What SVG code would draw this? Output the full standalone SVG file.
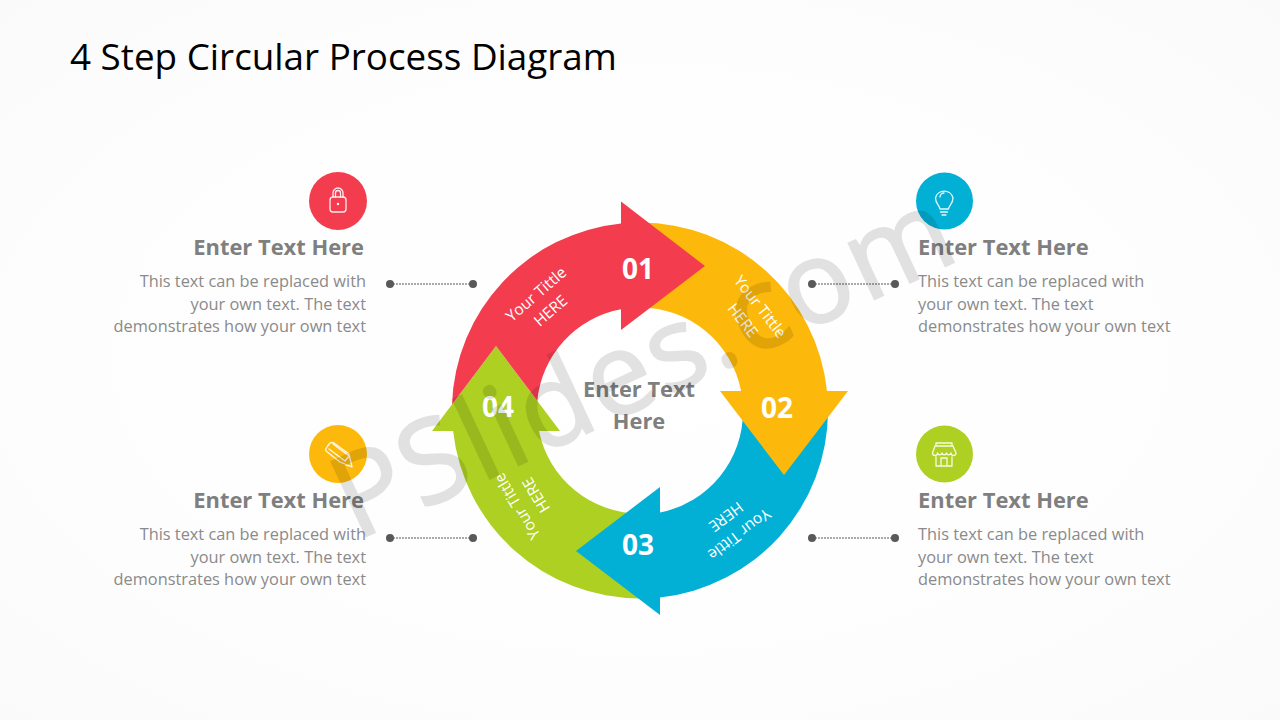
<svg xmlns="http://www.w3.org/2000/svg" width="1280" height="720" viewBox="0 0 1280 720">
<style>
text{font-family:"Open Sans","Noto Sans","Liberation Sans",sans-serif}
.title{font-size:36.800px;fill:#000}
.head{font-size:21.900px;font-weight:700;fill:#7f7f7f}
.body{font-size:16.350px;fill:#8a8a8a}
.end{text-anchor:end}
.num{font-size:28px;font-weight:700;fill:#fff;text-anchor:middle}
.lab{font-size:15.500px;fill:#fff;text-anchor:middle}
.center{font-size:21.800px;font-weight:700;fill:#7f7f7f;text-anchor:middle}
.link{stroke:#595959;stroke-width:1;stroke-dasharray:2 1;fill:none}
.dot{fill:#595959}
.ic{fill:none;stroke:#fff;stroke-width:1.300;stroke-linejoin:round;stroke-linecap:round;opacity:.9}
.wm{font-size:115px;fill:#000;stroke:#000;stroke-width:2;opacity:.11;letter-spacing:2.800px}
</style>
<defs>
<radialGradient id="bg" cx="50%" cy="50%" r="70%">
<stop offset="0" stop-color="#fff"/><stop offset=".7" stop-color="#fdfdfd"/><stop offset="1" stop-color="#fafafa"/>
</radialGradient>
</defs>
<rect width="1280" height="720" fill="url(#bg)"/>
<text class="title" x="70" y="70">4 Step Circular Process Diagram</text>

<g id="connectors">
<line class="link" x1="390" y1="284" x2="473" y2="284"/><circle class="dot" cx="390" cy="284" r="4"/><circle class="dot" cx="473" cy="284" r="4"/>
<line class="link" x1="812" y1="284" x2="895" y2="284"/><circle class="dot" cx="812" cy="284" r="4"/><circle class="dot" cx="895" cy="284" r="4"/>
<line class="link" x1="390" y1="538" x2="473" y2="538"/><circle class="dot" cx="390" cy="538" r="4"/><circle class="dot" cx="473" cy="538" r="4"/>
<line class="link" x1="812" y1="538" x2="895" y2="538"/><circle class="dot" cx="812" cy="538" r="4"/><circle class="dot" cx="895" cy="538" r="4"/>
</g>

<g id="arrow-04">
<path fill="#add022" d="M640,598.500A188,188 0 0 1 453.100,431L432,431L496,346L560,431L539,431A103,103 0 0 0 640,513.500Z"/>
<text class="num" x="498" y="417">04</text>
<text class="lab" transform="translate(526,501) rotate(-121)"><tspan x="0" y="-5">Your Tittle</tspan><tspan x="0" y="17">HERE</tspan></text>
</g>
<g id="arrow-03">
<path fill="#02b0d6" d="M828,410.500A188,188 0 0 1 660,597.400L660,615L576,551L660,487L660,512.500A103,103 0 0 0 743,410.500Z"/>
<text class="num" x="638" y="555">03</text>
<text class="lab" transform="translate(733,526) rotate(143)"><tspan x="0" y="-5">Your Tittle</tspan><tspan x="0" y="17">HERE</tspan></text>
</g>
<g id="arrow-02">
<path fill="#fdb90b" d="M640,222.500A188,188 0 0 1 827,391L848,391L784,475L720,391L741.100,391A103,103 0 0 0 640,307.500Z"/>
<text class="num" x="777" y="418">02</text>
<text class="lab" transform="translate(752,313) rotate(52)"><tspan x="0" y="-5">Your Tittle</tspan><tspan x="0" y="17">HERE</tspan></text>
</g>
<g id="arrow-01">
<path fill="#f43c4f" d="M452,404.400A188,188 0 0 1 621,223.500L621,201.500L705,266L621,330L621,309.300A103,103 0 0 0 537.300,400.800L496,346Z"/>
<text class="num" x="638" y="279">01</text>
<text class="lab" transform="translate(543,302) rotate(-41)"><tspan x="0" y="-5">Your Tittle</tspan><tspan x="0" y="17">HERE</tspan></text>
</g>
<g id="center"><text class="center" x="639" y="397">Enter Text</text><text class="center" x="639" y="429">Here</text></g>

<g id="item-lock">
<circle cx="338" cy="201" r="29" fill="#f43c4f"/>
<rect class="ic" x="330" y="197" width="16" height="15" rx="3"/>
<path class="ic" d="M333,197v-4a5,5 0 0 1 10,0v4M335.500,197v-4a2.500,2.500 0 0 1 5,0v4"/>
<circle cx="338" cy="204" r="1.200" fill="#fff"/>
<text class="head end" x="364" y="255">Enter Text Here</text>
<text class="body end"><tspan x="366" y="287">This text can be replaced with</tspan><tspan x="366" y="310">your own text. The text</tspan><tspan x="366" y="332">demonstrates how your own text</tspan></text>
</g>
<g id="item-bulb">
<circle cx="944.500" cy="201" r="28.500" fill="#02b0d6"/>
<path class="ic" d="M940,209c0,-3 -4.500,-5 -4.500,-11a9,9 0 0 1 17.500,0c0,6 -4.500,8 -4.500,11ZM940.500,212h7M942,215h4"/>
<path class="ic" d="M940,197a4,4 0 0 1 4,-4"/>
<text class="head" x="918" y="255">Enter Text Here</text>
<text class="body"><tspan x="918" y="287">This text can be replaced with</tspan><tspan x="918" y="310">your own text. The text</tspan><tspan x="918" y="332">demonstrates how your own text</tspan></text>
</g>
<g id="item-pencil">
<circle cx="338" cy="454" r="29" fill="#fdb90b"/>
<path class="ic" d="M327,447l3,-4q2,-1 4,0l15,11l3,13l-12,-5l-14,-11q-1,-2 1,-4ZM329,449l16,12M333,444l16,12M345,461l4,-5M346,465l4,1"/>
<text class="head end" x="364" y="508">Enter Text Here</text>
<text class="body end"><tspan x="366" y="540">This text can be replaced with</tspan><tspan x="366" y="563">your own text. The text</tspan><tspan x="366" y="585">demonstrates how your own text</tspan></text>
</g>
<g id="item-shop">
<circle cx="944.500" cy="454" r="28.500" fill="#add022"/>
<path class="ic" d="M936,443h16v3h-16ZM935,446h18l3,7a2.500,2.500 0 0 1 -5,0a2.300,2.300 0 0 1 -4.500,0a2.300,2.300 0 0 1 -4.500,0a2.300,2.300 0 0 1 -4.500,0a2.500,2.500 0 0 1 -5,0ZM936,457v9h16v-9M941,466v-8h6v8"/>
<text class="head" x="918" y="508">Enter Text Here</text>
<text class="body"><tspan x="918" y="540">This text can be replaced with</tspan><tspan x="918" y="563">your own text. The text</tspan><tspan x="918" y="585">demonstrates how your own text</tspan></text>
</g>
<text class="wm" transform="translate(356,541) rotate(-25)">PSlides.com</text>
</svg>
